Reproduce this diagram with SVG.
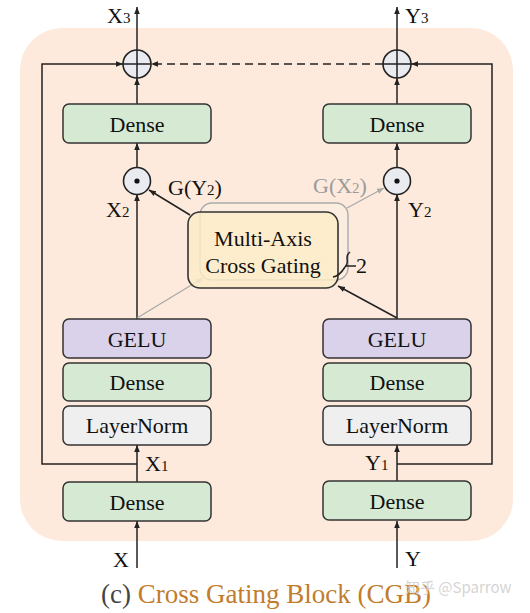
<svg xmlns="http://www.w3.org/2000/svg" width="530" height="613" viewBox="0 0 530 613">
<defs>
<style>
.t{font-family:"Liberation Serif","Times New Roman",serif;fill:#111}
.b{font-size:22px;text-anchor:middle}
.lb{font-size:22px}
.sub{font-size:15px}
.box{stroke:#333;stroke-width:1.5}
.dense{fill:#d6ead3}
.gelu{fill:#d9d2ea}
.ln{fill:#efefef}
.op{fill:#e9ebf1;stroke:#222;stroke-width:1.6}
.ln1{stroke:#222;stroke-width:1.5;fill:none}
.gray{stroke:#aaa;stroke-width:1.4;fill:none}
</style>
<marker id="ah" viewBox="0 0 10 10" refX="10" refY="5" markerWidth="7" markerHeight="7" orient="auto" markerUnits="userSpaceOnUse"><path d="M0,1 L10,5 L0,9 Z" fill="#222"/></marker>
<marker id="ahg" viewBox="0 0 10 10" refX="10" refY="5" markerWidth="7" markerHeight="7" orient="auto" markerUnits="userSpaceOnUse"><path d="M0,1 L10,5 L0,9 Z" fill="#aaa"/></marker>
</defs>
<rect width="530" height="613" fill="#fff"/>
<rect x="20" y="28" width="493" height="513" rx="42" fill="#fdeadc"/>

<g id="connectors">
<line class="ln1" x1="137" y1="568" x2="137" y2="521" marker-end="url(#ah)"/>
<line class="ln1" x1="137" y1="482" x2="137" y2="445" marker-end="url(#ah)"/>
<line class="ln1" x1="137" y1="319" x2="137" y2="194" marker-end="url(#ah)"/>
<line class="ln1" x1="137" y1="167" x2="137" y2="143" marker-end="url(#ah)"/>
<line class="ln1" x1="137" y1="104" x2="137" y2="78" marker-end="url(#ah)"/>
<line class="ln1" x1="137" y1="50" x2="137" y2="7" marker-end="url(#ah)"/>
<polyline class="ln1" points="137,464 42,464 42,64 123,64" marker-end="url(#ah)"/>
<line class="ln1" x1="397" y1="568" x2="397" y2="521" marker-end="url(#ah)"/>
<line class="ln1" x1="397" y1="481" x2="397" y2="445" marker-end="url(#ah)"/>
<line class="ln1" x1="397" y1="319" x2="397" y2="194" marker-end="url(#ah)"/>
<line class="ln1" x1="397" y1="167" x2="397" y2="143" marker-end="url(#ah)"/>
<line class="ln1" x1="397" y1="104" x2="397" y2="78" marker-end="url(#ah)"/>
<line class="ln1" x1="397" y1="50" x2="397" y2="7" marker-end="url(#ah)"/>
<polyline class="ln1" points="397,464 492,464 492,64 411,64" marker-end="url(#ah)"/>
<line class="ln1" x1="383" y1="64" x2="151" y2="64" stroke-dasharray="8,5" marker-end="url(#ah)"/>
<line class="ln1" x1="190" y1="215" x2="149" y2="190" marker-end="url(#ah)"/>
<line class="ln1" x1="397" y1="318" x2="338" y2="286" marker-end="url(#ah)"/>
<line class="gray" x1="137" y1="318" x2="203" y2="278" marker-end="url(#ahg)"/>
<line class="gray" x1="347" y1="208" x2="384" y2="188" marker-end="url(#ahg)"/>
</g>

<g id="add-left"><circle class="op" cx="137" cy="64" r="14"/><path class="ln1" d="M123,64 H151 M137,50 V78"/></g>
<g id="add-right"><circle class="op" cx="397" cy="64" r="14"/><path class="ln1" d="M383,64 H411 M397,50 V78"/></g>
<g id="mul-left"><circle class="op" cx="137" cy="181" r="13.5"/><circle cx="137" cy="181" r="2.6" fill="#111"/></g>
<g id="mul-right"><circle class="op" cx="397" cy="181" r="13.5"/><circle cx="397" cy="181" r="2.6" fill="#111"/></g>

<g id="dense-top-left"><rect class="box dense" x="63" y="104" width="148" height="39" rx="6"/><text class="t b" x="137" y="132">Dense</text></g>
<g id="gelu-left"><rect class="box gelu" x="63" y="319" width="148" height="39" rx="6"/><text class="t b" x="137" y="347">GELU</text></g>
<g id="dense-mid-left"><rect class="box dense" x="63" y="363" width="148" height="38" rx="6"/><text class="t b" x="137" y="390">Dense</text></g>
<g id="layernorm-left"><rect class="box ln" x="63" y="406" width="148" height="39" rx="6"/><text class="t b" x="137" y="433">LayerNorm</text></g>
<g id="dense-bottom-left"><rect class="box dense" x="63" y="482" width="148" height="39" rx="6"/><text class="t b" x="137" y="510">Dense</text></g>

<g id="dense-top-right"><rect class="box dense" x="323" y="104" width="148" height="39" rx="6"/><text class="t b" x="397" y="132">Dense</text></g>
<g id="gelu-right"><rect class="box gelu" x="323" y="319" width="148" height="39" rx="6"/><text class="t b" x="397" y="347">GELU</text></g>
<g id="dense-mid-right"><rect class="box dense" x="323" y="363" width="148" height="38" rx="6"/><text class="t b" x="397" y="390">Dense</text></g>
<g id="layernorm-right"><rect class="box ln" x="323" y="406" width="148" height="39" rx="6"/><text class="t b" x="397" y="433">LayerNorm</text></g>
<g id="dense-bottom-right"><rect class="box dense" x="323" y="481" width="148" height="39" rx="6"/><text class="t b" x="397" y="509">Dense</text></g>

<g id="cross-gating">
<rect x="200" y="203" width="148" height="77" rx="12" fill="#fbeee0" stroke="#aaa" stroke-width="1.4"/>
<rect x="188" y="212" width="150" height="76" rx="12" fill="#fdedc8" fill-opacity="0.82" stroke="#333" stroke-width="1.6"/>
<text class="t b" x="263" y="246">Multi-Axis</text>
<text class="t b" x="263" y="273">Cross Gating</text>
<path class="ln1" stroke-width="1.2" d="M350,252 C343,257 351,262 345,267 C342,272 339,276 333,277"/>
<line class="ln1" stroke-width="1.2" x1="346" y1="266" x2="356" y2="266"/>
<text class="t lb" x="356" y="273">2</text>
</g>

<g id="labels">
<text class="t lb" x="107" y="23">X<tspan class="sub">3</tspan></text>
<text class="t lb" x="405" y="23">Y<tspan class="sub">3</tspan></text>
<text class="t lb" x="106" y="217">X<tspan class="sub">2</tspan></text>
<text class="t lb" x="408" y="217">Y<tspan class="sub">2</tspan></text>
<text class="t lb" x="168" y="195">G(Y<tspan class="sub">2</tspan>)</text>
<text class="t lb" x="313" y="193" style="fill:#9a9a9a">G(X<tspan class="sub">2</tspan>)</text>
<text class="t lb" x="145" y="471">X<tspan class="sub">1</tspan></text>
<text class="t lb" x="365" y="470">Y<tspan class="sub">1</tspan></text>
<text class="t lb" x="113" y="567">X</text>
<text class="t lb" x="405" y="566">Y</text>
</g>

<g id="caption">
<text class="t" x="266" y="603" font-size="27" text-anchor="middle"><tspan style="fill:#444">(c) </tspan><tspan style="fill:#c27c2c">Cross Gating Block (CGB)</tspan></text>
<text x="405" y="593" font-size="15" font-family="'Noto Sans CJK SC','Noto Sans',sans-serif" fill="#cfcfcf" fill-opacity="0.9">知乎 @Sparrow</text>
</g>
</svg>
